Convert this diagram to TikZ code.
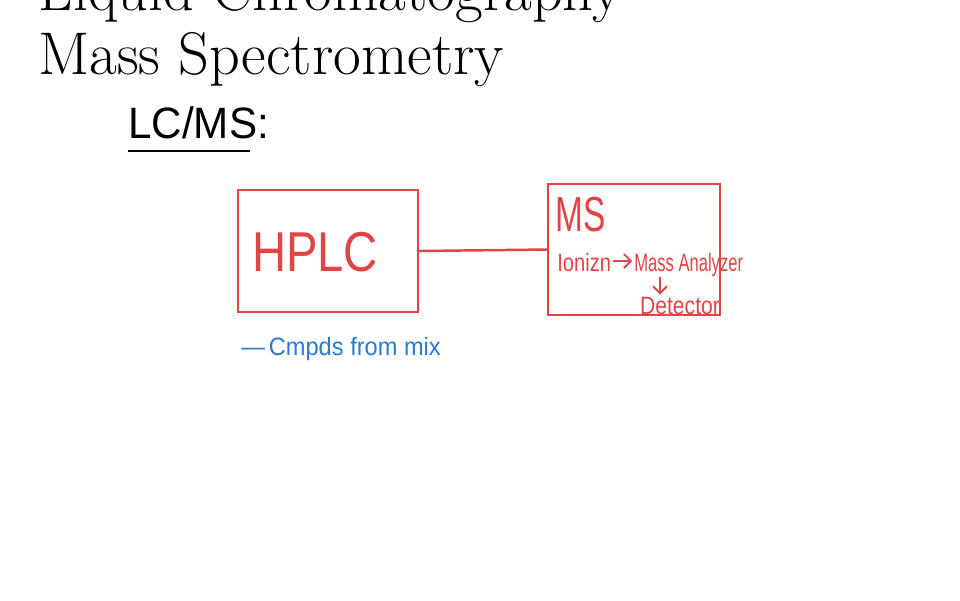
\documentclass[tikz,border=0pt]{standalone}
\usepackage{fontspec}
\usepackage{graphicx}
\usepackage{xcolor}
\usetikzlibrary{arrows.meta, positioning}
\newfontfamily\handfont{Liberation Sans}
\definecolor{lcred}{RGB}{226,68,70}
\definecolor{lcblue}{RGB}{40,122,212}

\begin{document}
\begin{tikzpicture}[x=0.02cm, y=-0.02cm,
    redbox/.style={draw=lcred, line width=1.4pt, inner sep=0pt},
    redline/.style={draw=lcred, line width=1.4pt},
    handred/.style={text=lcred, inner sep=0pt, font=\handfont},
    handarrow/.style={draw=lcred, line width=1.1pt, -{Straight Barb[length=4pt]}}]
    \useasboundingbox (0,0) rectangle (960,600);
    \clip (0,0) rectangle (960,600);

    % Title (top line runs off the page)
    \node[anchor=base west, inner sep=0pt, font=\fontsize{34.3}{40}\selectfont] (title1) at (38,10) {Liquid Chromatography};
    \node[anchor=base west, inner sep=0pt, font=\fontsize{34.3}{40}\selectfont] (title2) at (38,74) {Mass Spectrometry};

    % LC/MS heading
    \node[anchor=base west, inner sep=0pt, font=\handfont\fontsize{25}{29}\selectfont] (lcms) at (128,138) {\scalebox{0.96}[1]{LC/MS:}};
    \draw[line width=1.3pt] (lcms.south west |- 0,151) -- (250,151);

    % HPLC box
    \node[redbox, minimum width=3.6cm, minimum height=2.44cm] (hplc) at (328,251) {};
    \node[handred, font=\handfont\fontsize{32}{36}\selectfont] (hplctext) at (315,252) {\scalebox{0.84}[1]{HPLC}};

    % MS box
    \node[redbox, minimum width=3.44cm, minimum height=2.62cm] (ms) at (634,249.5) {};
    \node[handred, anchor=north west, font=\handfont\fontsize{28}{32}\selectfont] (mstext) at (555,197) {\scalebox{0.68}[1]{MS}};
    \draw[redline] (hplc.east) -- (ms.west);

    % inside the MS
    \node[handred, anchor=base west, font=\handfont\fontsize{14.3}{17}\selectfont] (ionizn) at (557,271) {\scalebox{0.8}[1]{Ionizn}};
    \node[handred, anchor=base west, font=\handfont\fontsize{14.3}{17}\selectfont] (analyzer) at (634,271) {\scalebox{0.66}[1]{Mass Analyzer}};
    \node[handred, anchor=base, font=\handfont\fontsize{14.3}{17}\selectfont] (detector) at (680,314) {\scalebox{0.84}[1]{Detector}};
    \coordinate (dtop) at (660,0);
    \draw[handarrow] ([xshift=1pt]ionizn.east |- 0,261) -- ([xshift=-1pt]analyzer.west |- 0,261);
    \draw[handarrow] (analyzer.south -| dtop) -- ([yshift=1pt]detector.north -| dtop);

    % note under HPLC
    \node[text=lcblue, inner sep=0pt, anchor=base west, font=\handfont\fontsize{14.3}{17}\selectfont] (cmpds) at (241,355) {\scalebox{0.94}[1]{\textemdash\,Cmpds from mix}};
\end{tikzpicture}
\end{document}
